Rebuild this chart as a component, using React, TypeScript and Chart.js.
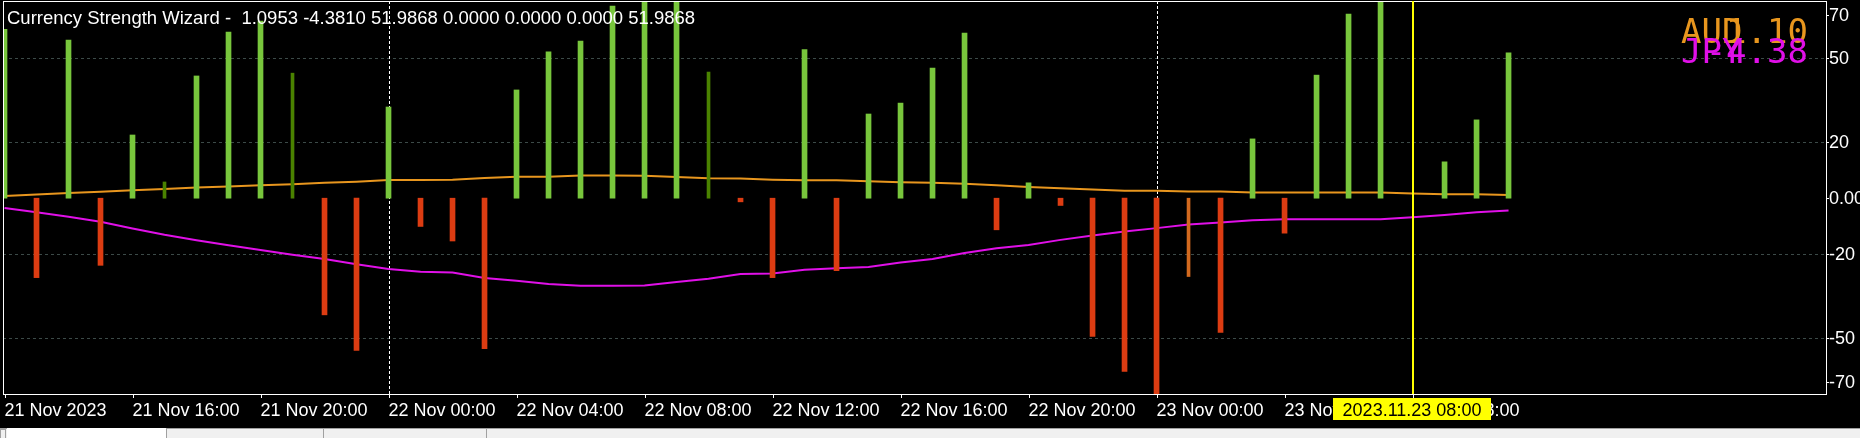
import React, { useEffect, useRef } from 'react';
import { Chart, registerables } from 'chart.js';

Chart.register(...registerables);

// ---- data ----
// hour index 0 = 21 Nov 2023 12:00, one bar per hour
const barHours = [
  0, 1, 2, 3, 4, 5, 6, 7, 8, 9, 10, 11, 12, 13, 14, 15, 16, 17, 18, 19, 20, 21, 22, 23,
  24, 25, 26, 27, 28, 29, 30, 31, 32, 33, 34, 35, 36, 37, 38, 39, 40, 41, 42, 43, 44, 45, 46, 47,
];
const strength = [
  60.4, -28.4, 56.5, -24.0, 22.6, 5.8, 43.7, 59.4, 63.3, 44.7, -41.7, -54.4,
  32.6, -10.1, -15.3, -53.8, 38.7, 52.3, 56.2, 68.7, 74.0, 73.0, 45.1, -1.3,
  -28.4, 53.1, -25.9, 30.1, 34.0, 46.5, 59.0, -11.3, 5.5, -2.6, -49.4, -61.9,
  -71.0, -28.0, -48.0, 21.2, -12.5, 44.0, 65.8, 73.0, 0.0, 13.0, 28.0, 51.99,
];
const weakBars = [5, 9, 22, 37];
const audLine = [
  0.8, 1.3, 1.9, 2.3, 2.8, 3.3, 3.8, 4.2, 4.6, 5.0, 5.5, 5.9,
  6.5, 6.5, 6.6, 7.2, 7.7, 7.7, 8.1, 8.1, 8.0, 7.6, 7.1, 7.0,
  6.6, 6.4, 6.4, 6.1, 5.7, 5.5, 5.2, 4.6, 4.0, 3.6, 3.1, 2.7,
  2.7, 2.4, 2.4, 2.0, 2.0, 2.0, 2.0, 2.0, 1.7, 1.4, 1.4, 1.1,
];
const jpyLine = [
  -3.5, -5.0, -6.6, -8.4, -10.8, -13.1, -15.0, -16.8, -18.5, -20.2, -21.7, -23.6,
  -25.3, -26.3, -26.6, -28.5, -29.5, -30.7, -31.3, -31.3, -31.2, -30.0, -28.8, -27.1,
  -26.9, -25.6, -25.0, -24.6, -23.0, -21.7, -19.6, -17.9, -16.7, -14.9, -13.3, -11.9,
  -10.7, -9.4, -8.7, -7.9, -7.5, -7.5, -7.5, -7.5, -6.8, -6.0, -5.0, -4.4,
];
const xTickHours = [0, 4, 8, 12, 16, 20, 24, 28, 32, 36, 40, 44];
const xTickLabels = [
  '21 Nov 2023', '21 Nov 16:00', '21 Nov 20:00', '22 Nov 00:00', '22 Nov 04:00', '22 Nov 08:00',
  '22 Nov 12:00', '22 Nov 16:00', '22 Nov 20:00', '23 Nov 00:00', '23 Nov 04:00', '23 Nov 08:00',
];
const yGridValues = [50, 20, -20, -50];
const yTickValues = [70, 50, 20, 0, -20, -50, -70];
const yTickLabels = ['70', '50', '20', '0.00', '-20', '-50', '-70'];
const daySeparatorHours = [12, 36];
const crosshairHour = 44;
const crosshairLabel = '2023.11.23 08:00';
const titleText = 'Currency Strength Wizard -  1.0953 -4.3810 51.9868 0.0000 0.0000 0.0000 51.9868';
const currencyNames = ['AUD', 'JPY'];
const currencyValues = ['1.10', '-4.38'];

// ---- styles ----
const GREEN = '#78c63c';
const DARK_GREEN = '#4a8200';
const RED = '#dc3c12';
const WEAK_RED = '#d2691e';
const AUD_COLOR = '#e8961e';
const JPY_COLOR = '#e010e8';
const FONT = '"Liberation Sans", Arial, sans-serif';

function pts(filter: (v: number, i: number) => boolean) {
  return barHours.map((h, i) => ({ x: h, y: filter(strength[i], i) ? strength[i] : null }));
}

const overlayPlugin = {
  id: 'mtOverlay',
  beforeDraw(chart: any) {
    const { ctx, chartArea: a, scales } = chart;
    ctx.save();
    ctx.fillStyle = '#000';
    ctx.fillRect(0, 0, chart.width, chart.height);
    // horizontal dashed grid
    ctx.strokeStyle = '#3c4a48';
    ctx.lineWidth = 1;
    ctx.setLineDash([3, 3]);
    yGridValues.forEach((v) => {
      const y = Math.round(scales.y.getPixelForValue(v)) + 0.5;
      ctx.beginPath();
      ctx.moveTo(a.left, y);
      ctx.lineTo(a.right, y);
      ctx.stroke();
    });
    // day separators
    ctx.strokeStyle = '#ffffff';
    ctx.setLineDash([3, 2]);
    daySeparatorHours.forEach((h) => {
      const x = Math.round(scales.x.getPixelForValue(h)) + 0.5;
      ctx.beginPath();
      ctx.moveTo(x, a.top);
      ctx.lineTo(x, a.bottom);
      ctx.stroke();
    });
    ctx.restore();
  },
  afterDraw(chart: any) {
    const { ctx, chartArea: a, scales } = chart;
    ctx.save();
    // frame
    ctx.strokeStyle = '#ffffff';
    ctx.lineWidth = 1;
    ctx.setLineDash([]);
    ctx.strokeRect(a.left + 0.5, a.top + 0.5, a.right - a.left, a.bottom - a.top);
    // x ticks & labels
    ctx.fillStyle = '#ffffff';
    ctx.font = `18px ${FONT}`;
    ctx.textAlign = 'left';
    ctx.textBaseline = 'alphabetic';
    xTickHours.forEach((h, i) => {
      const x = Math.round(scales.x.getPixelForValue(h)) + 0.5;
      ctx.beginPath();
      ctx.moveTo(x, a.bottom);
      ctx.lineTo(x, a.bottom + 4);
      ctx.stroke();
      ctx.fillText(xTickLabels[i], x - 1, a.bottom + 21.5);
    });
    // y ticks & labels
    ctx.textBaseline = 'middle';
    yTickValues.forEach((v, i) => {
      const yv = scales.y.getPixelForValue(v);
      const y = Math.min(Math.max(yv, a.top + 14), a.bottom - 12);
      ctx.beginPath();
      ctx.moveTo(a.right, Math.round(y) + 0.5);
      ctx.lineTo(a.right + 3, Math.round(y) + 0.5);
      ctx.stroke();
      ctx.fillText(yTickLabels[i], a.right + 3, y + 1);
    });
    // crosshair
    const cx = Math.round(scales.x.getPixelForValue(crosshairHour));
    ctx.strokeStyle = '#ffff00';
    ctx.lineWidth = 2;
    ctx.beginPath();
    ctx.moveTo(cx, a.top);
    ctx.lineTo(cx, a.bottom);
    ctx.stroke();
    ctx.fillStyle = '#ffff00';
    ctx.fillRect(cx - 80, a.bottom + 4, 158, 22);
    ctx.fillStyle = '#000000';
    ctx.textAlign = 'center';
    ctx.textBaseline = 'alphabetic';
    ctx.fillText(crosshairLabel, cx - 1, a.bottom + 21.5);
    // title
    ctx.fillStyle = '#ffffff';
    ctx.textAlign = 'left';
    ctx.font = `18.5px ${FONT}`;
    ctx.fillText(titleText, 7, 24);
    // currency labels
    ctx.font = '34px "DejaVu Sans Mono", monospace';
    const colors = [AUD_COLOR, JPY_COLOR];
    const baselines = [43, 63];
    currencyNames.forEach((n, i) => {
      ctx.fillStyle = colors[i];
      ctx.textAlign = 'left';
      ctx.fillText(n, a.right - 145, baselines[i]);
      ctx.textAlign = 'right';
      ctx.fillText(currencyValues[i], a.right - 18, baselines[i]);
    });
    ctx.restore();
  },
};

export default function App() {
  const ref = useRef<HTMLCanvasElement | null>(null);
  useEffect(() => {
    document.body.style.margin = '0';
    if (!ref.current) return;
    const isWeak = (i: number) => weakBars.includes(i);
    const barBase = { grouped: false, borderWidth: 0, order: 0 };
    const chart = new Chart(ref.current, {
      type: 'bar',
      data: {
        datasets: [
          { ...barBase, label: 'strong up', data: pts((v, i) => v > 0 && !isWeak(i)), backgroundColor: GREEN, barThickness: 5 } as any,
          { ...barBase, label: 'weak up', data: pts((v, i) => v > 0 && isWeak(i)), backgroundColor: DARK_GREEN, barThickness: 3 } as any,
          { ...barBase, label: 'strong down', data: pts((v, i) => v < 0 && !isWeak(i)), backgroundColor: RED, barThickness: 5 } as any,
          { ...barBase, label: 'weak down', data: pts((v, i) => v < 0 && isWeak(i)), backgroundColor: WEAK_RED, barThickness: 3 } as any,
          {
            type: 'line', label: 'AUD', order: 1,
            data: barHours.map((h, i) => ({ x: h, y: audLine[i] })),
            borderColor: AUD_COLOR, borderWidth: 2, pointRadius: 0, tension: 0,
          } as any,
          {
            type: 'line', label: 'JPY', order: 1,
            data: barHours.map((h, i) => ({ x: h, y: jpyLine[i] })),
            borderColor: JPY_COLOR, borderWidth: 2, pointRadius: 0, tension: 0,
          } as any,
        ],
      },
      options: {
        animation: false,
        responsive: false,
        devicePixelRatio: 1,
        layout: { padding: { left: 3, right: 34, top: 1, bottom: 34 } },
        plugins: { legend: { display: false }, tooltip: { enabled: false }, title: { display: false } },
        events: [],
        scales: {
          x: { type: 'linear', min: -0.047, max: 56.92, display: false, offset: false },
          y: { type: 'linear', min: -70, max: 70.5, display: false },
        },
      } as any,
      plugins: [overlayPlugin],
    });
    return () => chart.destroy();
  }, []);

  return (
    <div style={{ width: 1860, height: 438, overflow: 'hidden', position: 'relative', background: '#000' }}>
      <canvas ref={ref} width={1860} height={428} style={{ display: 'block', width: 1860, height: 428 }} />
      <div style={{ position: 'absolute', left: 0, top: 428, width: 1860, height: 10, background: '#f0f0f0', borderTop: '1px solid #a0a0a0', boxSizing: 'border-box' }}>
        <div style={{ position: 'absolute', left: 0, top: 0, width: 6, height: 10, border: '1px solid #a0a0a0', boxSizing: 'border-box', background: '#f0f0f0' }} />
        <div style={{ position: 'absolute', left: 7, top: -1, width: 159, height: 10, background: '#ffffff' }} />
        <div style={{ position: 'absolute', left: 166, top: 0, width: 1, height: 10, background: '#a0a0a0' }} />
        <div style={{ position: 'absolute', left: 323, top: 0, width: 1, height: 10, background: '#a0a0a0' }} />
        <div style={{ position: 'absolute', left: 486, top: 0, width: 1, height: 10, background: '#a0a0a0' }} />
      </div>
    </div>
  );
}
